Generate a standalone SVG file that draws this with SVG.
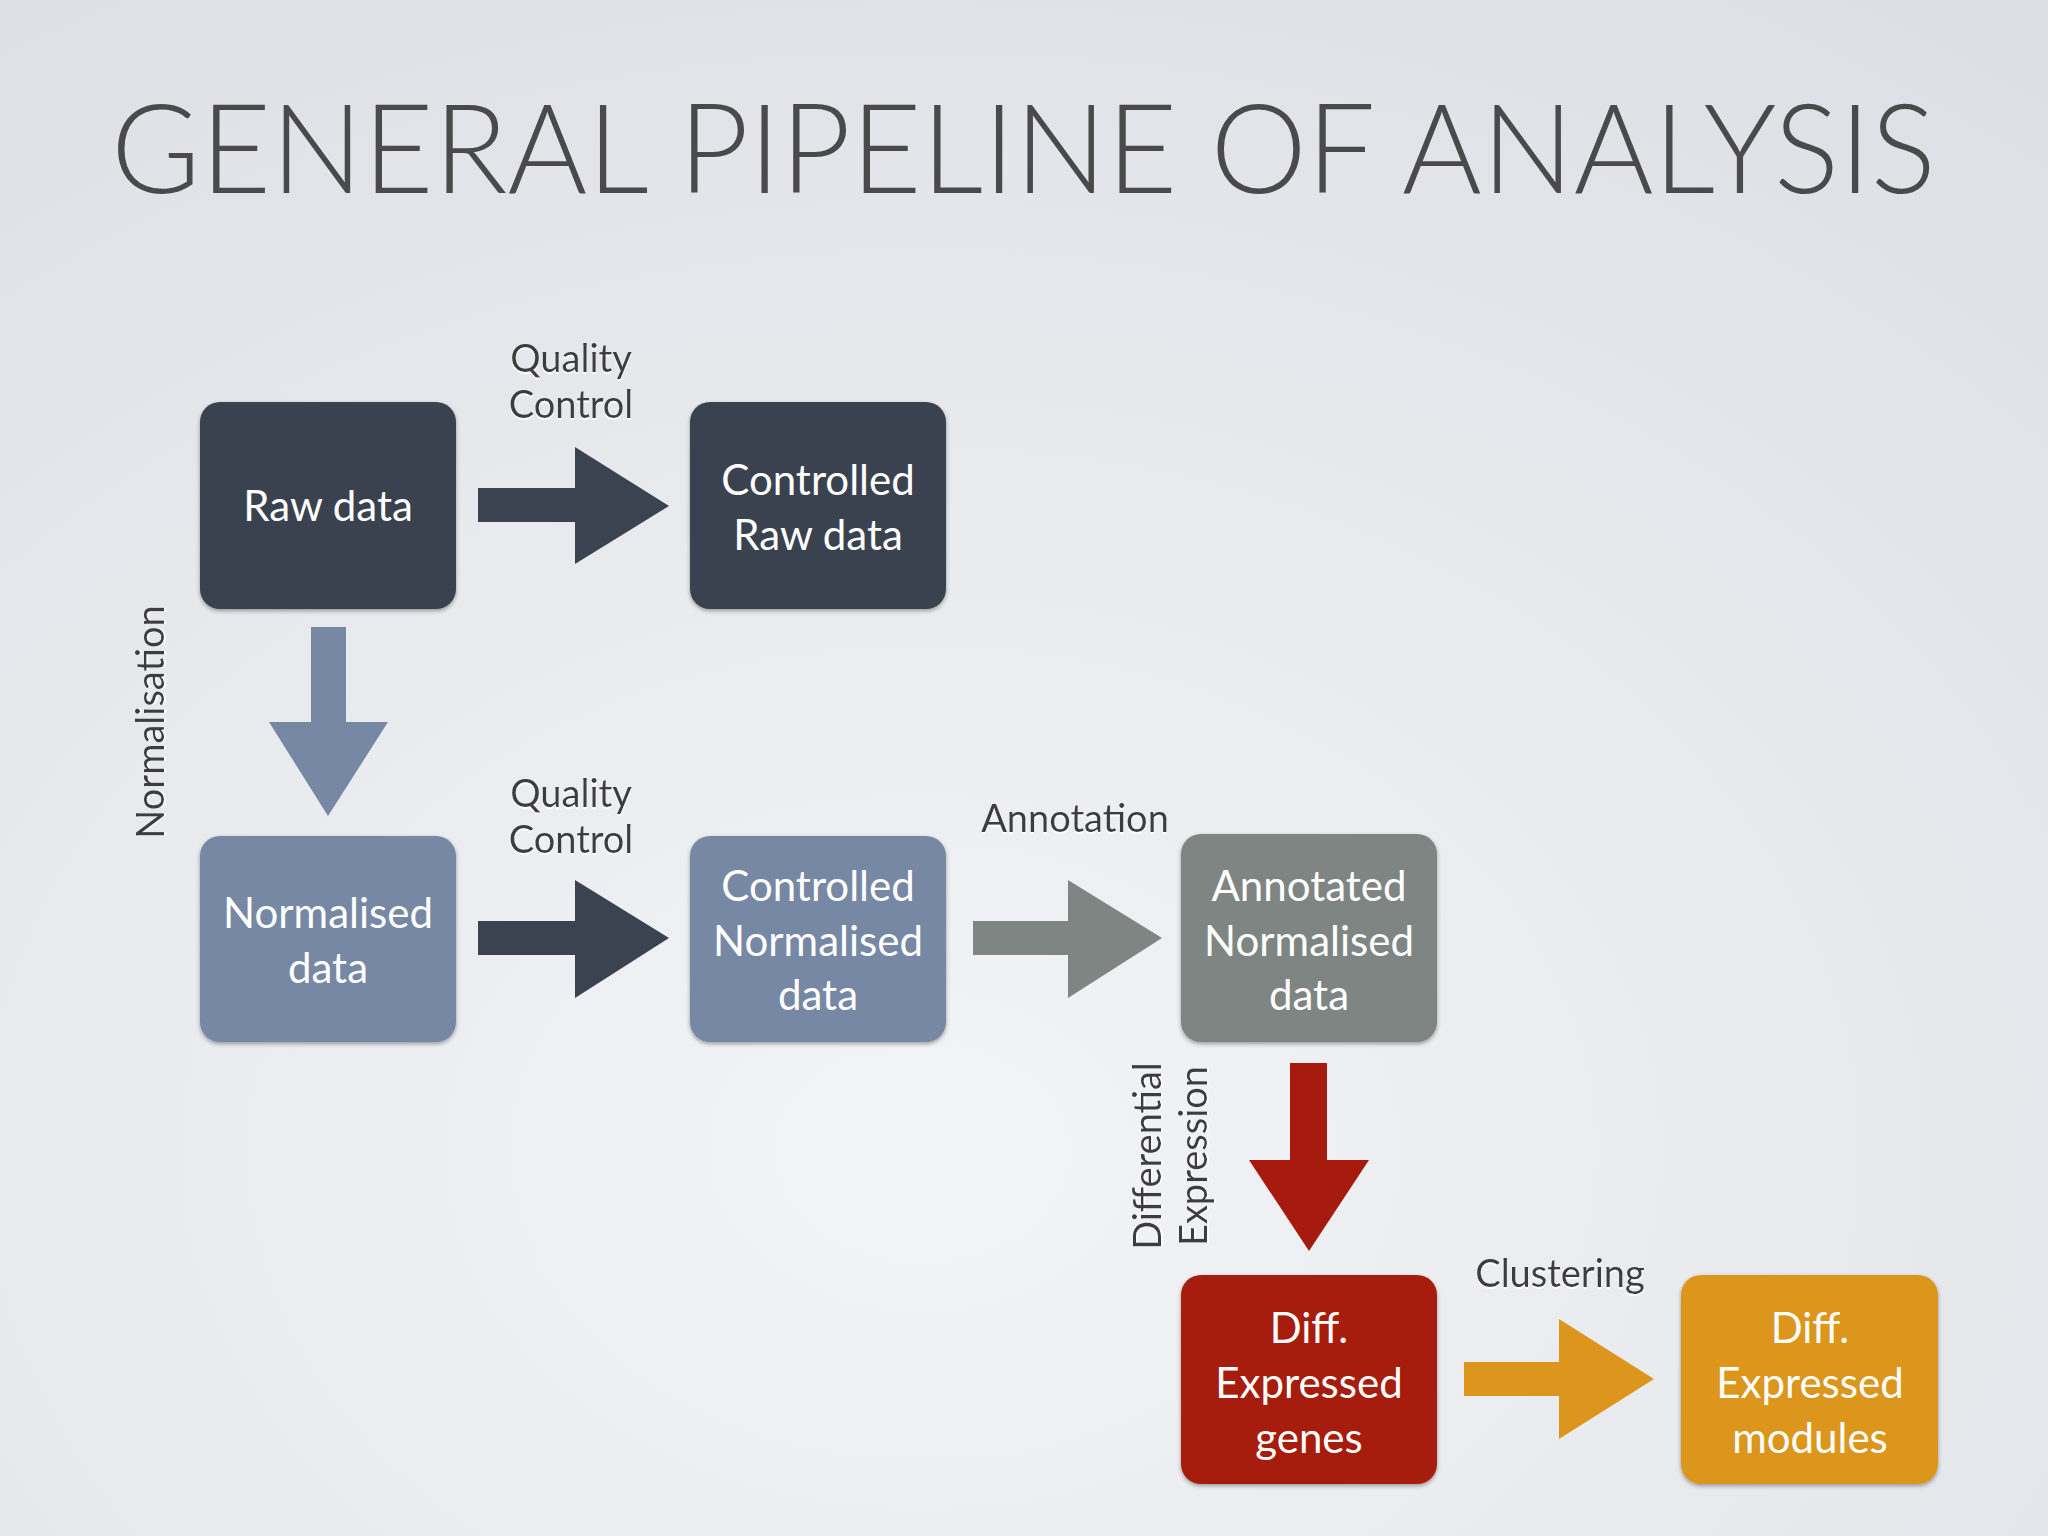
<svg xmlns="http://www.w3.org/2000/svg" width="2048" height="1536" viewBox="0 0 2048 1536">
<defs>
<radialGradient id="bg" cx="0.45" cy="0.75" r="0.9">
<stop offset="0" stop-color="#f3f4f6"/><stop offset="1" stop-color="#dcdfe5"/>
</radialGradient>
<filter id="sh" x="-10%" y="-10%" width="120%" height="130%"><feDropShadow dx="0" dy="2" stdDeviation="2" flood-color="#000" flood-opacity="0.35"/></filter>
<filter id="emb"><feDropShadow dx="0" dy="2" stdDeviation="0.5" flood-color="#fff" flood-opacity="0.9"/></filter>
</defs>
<style>
.title{font-family:Lato,"Open Sans",sans-serif;font-weight:300;font-size:124px;fill:#4a4a4c}
.bt{font-family:Lato,"Open Sans",sans-serif;font-size:42px;fill:#fff;text-anchor:middle;dominant-baseline:central}
.lb{font-family:Lato,"Open Sans",sans-serif;font-size:38px;fill:#3d3d3f;text-anchor:middle;filter:url(#emb)}
.box{filter:url(#sh)}
</style>
<rect width="2048" height="1536" fill="url(#bg)"/>
<text class="title" x="111" y="193" textLength="1825" lengthAdjust="spacingAndGlyphs">GENERAL PIPELINE OF ANALYSIS</text>
<g id="connectors">
<polygon points="478,488 575,488 575,447 669,506 575,564 575,522 478,522" fill="#3b4350"/>
<polygon points="478,921 575,921 575,880 669,938 575,998 575,955 478,955" fill="#3b4350"/>
<polygon points="973,921 1068,921 1068,880 1162,938 1068,998 1068,955 973,955" fill="#7f8583"/>
<polygon points="311,627 346,627 346,722 388,722 328,816 269,722 311,722" fill="#7788a4"/>
<polygon points="1290,1063 1327,1063 1327,1160 1369,1160 1309,1251 1249,1160 1290,1160" fill="#a61b0d"/>
<polygon points="1464,1362 1559,1362 1559,1319 1654,1379 1559,1439 1559,1396 1464,1396" fill="#dc961e"/>
<text class="lb" x="571" y="372">Quality</text><text class="lb" x="571" y="418">Control</text>
<text class="lb" x="571" y="807">Quality</text><text class="lb" x="571" y="853">Control</text>
<text class="lb" x="1075" y="832">Annotation</text>
<text class="lb" x="1560" y="1287">Clustering</text>
<text class="lb" transform="translate(164,722) rotate(-90)">Normalisation</text>
<text class="lb" transform="translate(1161,1156) rotate(-90)">Differential</text>
<text class="lb" transform="translate(1207,1156) rotate(-90)">Expression</text>
</g>
<g id="raw"><rect class="box" x="200" y="402" width="256" height="207" rx="20" fill="#3b4350"/><text class="bt" x="328" y="505">Raw data</text></g>
<g id="craw"><rect class="box" x="690" y="402" width="256" height="207" rx="20" fill="#3b4350"/><text class="bt" x="818" y="479">Controlled</text><text class="bt" x="818" y="534">Raw data</text></g>
<g id="norm"><rect class="box" x="200" y="836" width="256" height="206" rx="20" fill="#7788a4"/><text class="bt" x="328" y="912">Normalised</text><text class="bt" x="328" y="967">data</text></g>
<g id="cnorm"><rect class="box" x="690" y="836" width="256" height="206" rx="20" fill="#7788a4"/><text class="bt" x="818" y="885">Controlled</text><text class="bt" x="818" y="940">Normalised</text><text class="bt" x="818" y="994">data</text></g>
<g id="anorm"><rect class="box" x="1181" y="834" width="256" height="208" rx="20" fill="#7f8583"/><text class="bt" x="1309" y="885">Annotated</text><text class="bt" x="1309" y="940">Normalised</text><text class="bt" x="1309" y="994">data</text></g>
<g id="deg"><rect class="box" x="1181" y="1275" width="256" height="209" rx="20" fill="#a61b0d"/><text class="bt" x="1309" y="1327">Diff.</text><text class="bt" x="1309" y="1382">Expressed</text><text class="bt" x="1309" y="1437">genes</text></g>
<g id="dem"><rect class="box" x="1681" y="1275" width="257" height="209" rx="20" fill="#dc961e"/><text class="bt" x="1810" y="1327">Diff.</text><text class="bt" x="1810" y="1382">Expressed</text><text class="bt" x="1810" y="1437">modules</text></g>
</svg>
